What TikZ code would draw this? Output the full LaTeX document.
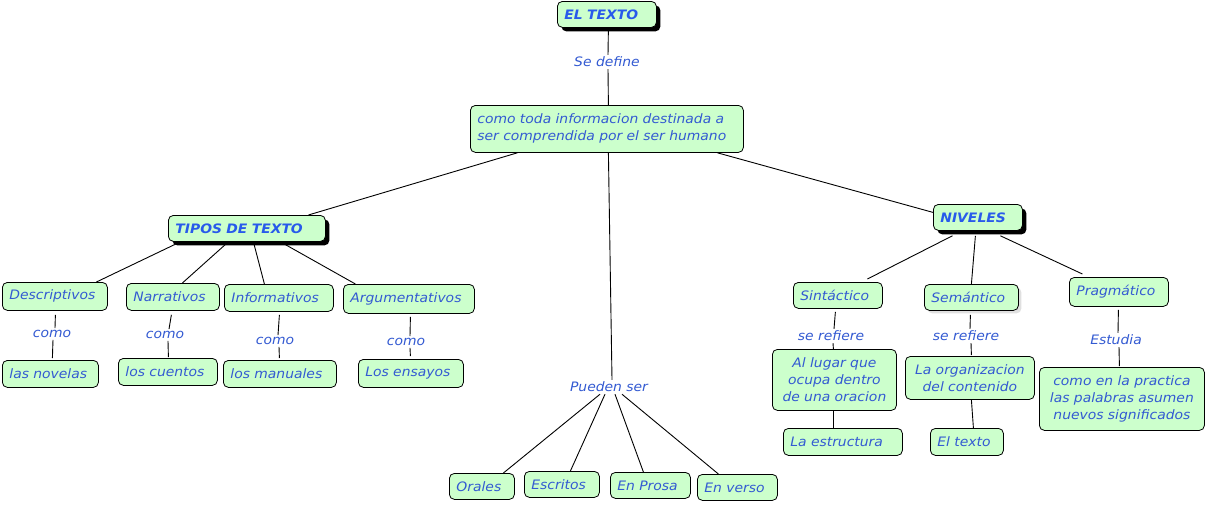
\documentclass[tikz,border=0pt]{standalone}
\usepackage{fontspec}
\setmainfont{DejaVu Sans}[FakeStretch=1.07]
\usetikzlibrary{shadows}
\definecolor{boxgreen}{RGB}{204,255,204}
\definecolor{txtblue}{RGB}{51,90,210}
\definecolor{hdblue}{RGB}{40,90,235}
\begin{document}
\begin{tikzpicture}[x=1pt,y=-1pt,
  every node/.style={font=\fontsize{13}{17}\selectfont\itshape},
  bx/.style={draw=black, line width=0.8pt, rounded corners=5pt, fill=boxgreen, text=txtblue,
    inner xsep=7pt, inner ysep=0pt, anchor=north west, align=left},
  bxc/.style={bx, align=center},
  hd/.style={bx, text=hdblue, font=\fontsize{13}{17}\selectfont\bfseries\itshape,
    drop shadow={shadow xshift=4pt, shadow yshift=-4pt, fill=black, opacity=1}},
  lb/.style={text=txtblue, inner sep=2pt},
  ln/.style={draw=black, line width=0.9pt}]
\useasboundingbox (0,0) rectangle (1206,504);
\fill[white] (0,0) rectangle (1206,504);

% headings
\node[hd, text width=85pt, minimum height=26pt] (eltexto) at (557,1) {EL TEXTO};
\node[bx, text width=259pt, minimum height=47pt] (def) at (470,105) {como toda informacion destinada a\\ser comprendida por el ser humano};
\node[hd, text width=143pt, minimum height=26pt] (tipos) at (168,215) {TIPOS DE TEXTO};
\node[hd, text width=75pt, minimum height=26pt] (niveles) at (933,204) {NIVELES};

% tipos
\node[bx, text width=91pt, minimum height=28pt] (desc) at (2,282) {Descriptivos};
\node[bx, text width=79pt, minimum height=27pt] (narr) at (126,283) {Narrativos};
\node[bx, text width=95pt, minimum height=27pt] (info) at (224,284) {Informativos};
\node[bx, text width=117pt, minimum height=29pt] (arg) at (343,284) {Argumentativos};
\node[bx, text width=82pt, minimum height=27pt] (nov) at (2,360) {las novelas};
\node[bx, text width=85pt, minimum height=27pt] (cue) at (118,358) {los cuentos};
\node[bx, text width=99pt, minimum height=27pt] (man) at (223,360) {los manuales};
\node[bx, text width=91pt, minimum height=28pt] (ens) at (358,359) {Los ensayos};

% pueden ser
\node[bx, text width=51pt, minimum height=26pt] (orales) at (449,473) {Orales};
\node[bx, text width=61pt, minimum height=26pt] (escritos) at (524,471) {Escritos};
\node[bx, text width=66pt, minimum height=26pt] (prosa) at (610,472) {En Prosa};
\node[bx, text width=66pt, minimum height=26pt] (verso) at (697,474) {En verso};

% niveles
\node[bx, text width=75pt, minimum height=26pt] (sint) at (793,282) {Sintáctico};
\node[bx, text width=80pt, minimum height=26pt,
  drop shadow={shadow xshift=3pt, shadow yshift=-3pt, fill=black, opacity=0.12}] (sem) at (924,284) {Semántico};
\node[bx, text width=85pt, minimum height=29pt] (prag) at (1069,277) {Pragmático};
\node[bxc, text width=110pt, minimum height=61pt] (lugar) at (772,349) {Al lugar que\\ocupa dentro\\de una oracion};
\node[bxc, text width=115pt, minimum height=43pt] (org) at (905,356) {La organizacion\\del contenido};
\node[bxc, text width=151pt, minimum height=63pt] (prac) at (1039,367) {como en la practica\\las palabras asumen\\nuevos significados};
\node[bx, text width=105pt, minimum height=27pt] (estr) at (783,428) {La estructura};
\node[bx, text width=59pt, minimum height=27pt] (eltx) at (930,428) {El texto};

% labels
\node[lb] (sedef) at (607,62) {Se define};
\node[lb] (pueden) at (609,387) {Pueden ser};
\node[lb] (como1) at (52,334) {como};
\node[lb] (como2) at (165,335) {como};
\node[lb] (como3) at (275,341) {como};
\node[lb] (como4) at (406,342) {como};
\node[lb] (sref1) at (831,336) {se refiere};
\node[lb] (sref2) at (966,336) {se refiere};
\node[lb] (estud) at (1116,340) {Estudia};

% connectors
\draw[ln] ([xshift=1.5pt]eltexto.south) -- ([xshift=1pt]sedef.north);
\draw[ln] ([xshift=1pt]sedef.south) -- ([xshift=1.5pt]def.north);
\draw[ln] ([xshift=-89.5pt]def.south) -- ([xshift=61.5pt]tipos.north);
\draw[ln] ([xshift=110.5pt]def.south) -- ([yshift=5pt]niveles.west);
\draw[ln] ([xshift=1.5pt]def.south) -- ([xshift=3pt]pueden.north);

\draw[ln] ([xshift=-9pt]pueden.south) -- ([xshift=21.5pt]orales.north);
\draw[ln] ([xshift=-4pt]pueden.south) -- ([xshift=8.5pt]escritos.north);
\draw[ln] ([xshift=6pt]pueden.south) -- ([xshift=-7pt]prosa.north);
\draw[ln] ([xshift=13pt]pueden.south) -- ([xshift=-19pt]verso.north);

\draw[ln] ([xshift=-66.5pt]tipos.south) -- ([xshift=41.5pt]desc.north);
\draw[ln] ([xshift=-18.5pt]tipos.south) -- ([xshift=9.5pt]narr.north);
\draw[ln] ([xshift=6.5pt]tipos.south) -- ([xshift=-14.5pt]info.north);
\draw[ln] ([xshift=33.5pt]tipos.south) -- ([xshift=-53.5pt]arg.north);

\draw[ln] ([xshift=0.5pt,yshift=-4pt]desc.south) -- ([xshift=3pt]como1.north);
\draw[ln] ([xshift=1pt]como1.south) -- ([xshift=2pt,yshift=2pt]nov.north);
\draw[ln] ([xshift=-1.5pt,yshift=-4pt]narr.south) -- ([xshift=4pt]como2.north);
\draw[ln] ([xshift=3pt]como2.south) -- ([xshift=0.5pt,yshift=1pt]cue.north);
\draw[ln] ([xshift=0.5pt,yshift=-3pt]info.south) -- ([xshift=3pt]como3.north);
\draw[ln] ([xshift=4pt]como3.south) -- ([xshift=-0.5pt,yshift=2pt]man.north);
\draw[ln] ([xshift=1.5pt,yshift=-3pt]arg.south) -- ([xshift=4pt]como4.north);
\draw[ln] ([xshift=4pt]como4.south) -- ([xshift=-0.5pt,yshift=3pt]ens.north);

\draw[ln] ([xshift=-25.5pt,yshift=-5pt]niveles.south) -- ([xshift=29.5pt,yshift=3pt]sint.north);
\draw[ln] ([xshift=-2.5pt,yshift=-5pt]niveles.south) -- (sem.north);
\draw[ln] ([xshift=22.5pt,yshift=-5pt]niveles.south) -- ([xshift=-36.5pt,yshift=3pt]prag.north);

\draw[ln] ([xshift=-2.5pt,yshift=-3pt]sint.south) -- ([xshift=3pt]sref1.north);
\draw[ln] ([xshift=2pt]sref1.south) -- ([xshift=-1pt]lugar.north);
\draw[ln] ([xshift=-1pt,yshift=-4pt]sem.south) -- ([xshift=4pt]sref2.north);
\draw[ln] ([xshift=5pt]sref2.south) -- ([xshift=1.5pt,yshift=1pt]org.north);
\draw[ln] ([xshift=-0.5pt,yshift=-3pt]prag.south) -- ([xshift=2pt]estud.north);
\draw[ln] ([xshift=3pt]estud.south) -- ([xshift=-2.5pt,yshift=1pt]prac.north);
\draw[ln] ([xshift=-1pt]lugar.south) -- ([xshift=-9.5pt]estr.north);
\draw[ln] ([xshift=1.5pt]org.south) -- ([xshift=6.5pt]eltx.north);
\end{tikzpicture}
\end{document}
